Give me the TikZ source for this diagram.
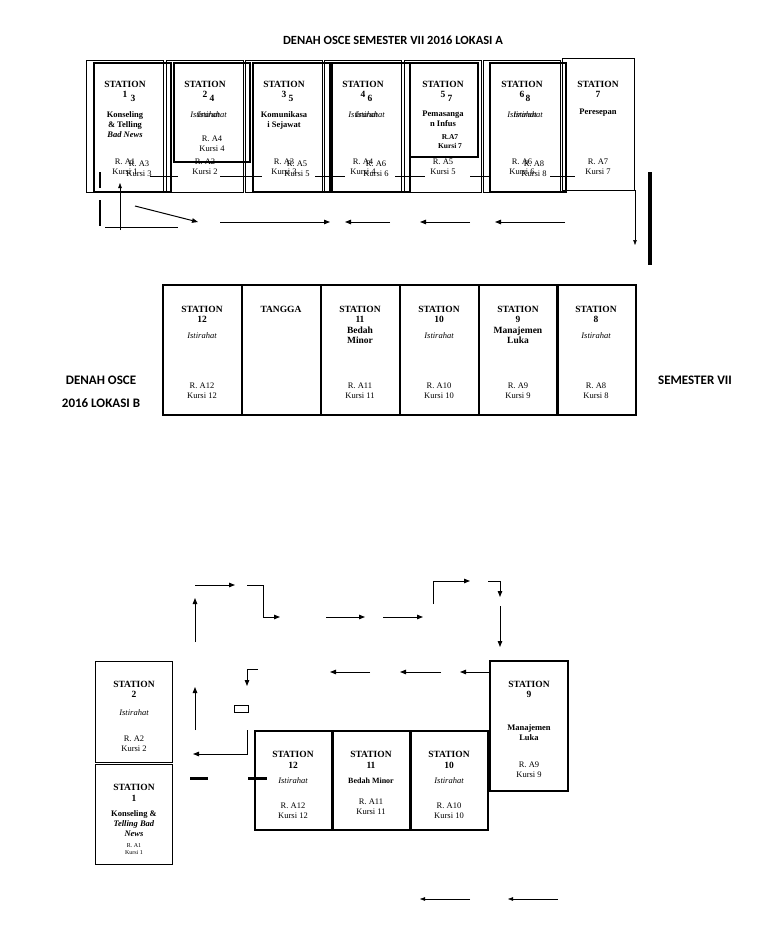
\documentclass[tikz,border=0pt]{standalone}
\usepackage{fontspec}
\setmainfont{Liberation Serif}
\newfontfamily\hd{Carlito}
\usetikzlibrary{arrows.meta}
\begin{document}
\begin{tikzpicture}[x=1pt,y=-1pt,
  tb/.style={draw,line width=0.6pt},
  thk/.style={draw,line width=2pt},
  st/.style={font=\bfseries\fontsize{9.5}{10.5}\selectfont,align=center,anchor=north,inner sep=1pt},
  it/.style={font=\itshape\fontsize{8.5}{9.5}\selectfont,align=center,anchor=north,inner sep=1pt},
  rm/.style={font=\fontsize{8.5}{10}\selectfont,align=center,anchor=north,inner sep=1pt},
  ar/.style={-{Triangle[length=6pt,width=4.5pt]},line width=1pt},
  thin/.style={-{Triangle[length=5pt,width=3.5pt]},line width=0.5pt},
  bar/.style={line width=3pt}]
\useasboundingbox (0,0) rectangle (768,932);
\node[font=\hd\bfseries\fontsize{12.5}{14}\selectfont] (title) at (393,40) {DENAH OSCE SEMESTER VII 2016 LOKASI A};
% ---- top layer A
\foreach \i/\x in {1/86,2/166,3/245,4/324,5/404,6/483}{
  \draw[tb] (\x,60) rectangle (\x+77,192);}
\draw[tb] (562,58) rectangle (634,190);
\node[st] (a1) at (125,80) {STATION\\1}; \node[st,font=\bfseries\fontsize{8.5}{10}\selectfont] at (125,110) {Konseling\\\& Telling\\\textit{Bad News}};
\node[st] (a2) at (205,80) {STATION\\2}; \node[it] at (205,110) {Istirahat};
\node[st] (a3) at (284,80) {STATION\\3}; \node[st,font=\bfseries\fontsize{8.5}{10}\selectfont] at (284,110) {Komunikasa\\i Sejawat};
\node[st] (a4) at (363,80) {STATION\\4}; \node[it] at (363,110) {Istirahat};
\node[st] (a5) at (443,80) {STATION\\5}; \node[st,font=\bfseries\fontsize{8.5}{10}\selectfont] at (443,110) {Pemasanga\\n Infus};
\node[st] (a6) at (522,80) {STATION\\6}; \node[it] at (522,110) {Istirahat};
\node[st] (a7) at (598,80) {STATION\\7}; \node[st,font=\bfseries\fontsize{8.5}{10}\selectfont] at (598,108) {Peresepan};
\foreach \x/\n in {125/1,205/2,284/3,363/4,443/5,522/6,598/7}{
  \node[rm] at (\x,158) {R. A\n\\Kursi \n};}
% ---- top layer B
\draw[thk] (94,63) rectangle (171,192);
\draw[thk] (174,63) rectangle (250,162);
\draw[thk] (253,63) rectangle (330,192);
\draw[thk] (332,63) rectangle (410,192);
\draw[thk] (410,63) rectangle (478,157);
\draw[thk] (490,63) rectangle (566,192);
\node[st] (b3) at (133,84) {\phantom{STATION}\\3};
\node[st] (b4) at (212,84) {\phantom{STATION}\\4};
\node[st] (b5) at (291,84) {\phantom{STATION}\\5};
\node[st] (b6) at (370,84) {\phantom{STATION}\\6};
\node[st] (b7) at (450,84) {\phantom{STATION}\\7};
\node[st] (b8) at (528,84) {\phantom{STATION}\\8};
\node[it] at (212,110) {Istirahat}; \node[it] at (370,110) {Istirahat}; \node[it] at (528,110) {Istirahat};
\node[rm] at (212,135) {R. A4\\Kursi 4};
\node[rm,font=\bfseries\fontsize{7.5}{9}\selectfont] at (450,133) {R.A7\\Kursi 7};
\foreach \x/\n in {133/3,291/5,370/6,528/8}{\node[rm] at (\x+6,160) {R. A\n\\Kursi \n};}
% corridor lines top
\foreach \a/\b in {150/178,220/262,315/345,395/425,470/490,550/575}{\draw[line width=0.7pt] (\a,176)--(\b,176);}
\draw[line width=2pt] (100,172)--(100,188); \draw[line width=2pt] (100,200)--(100,226);
\coordinate (u1) at (120,230); \coordinate (u2) at (120,183);
\draw[thin] (u1)--(u2); \draw[line width=0.7pt] (105,227)--(178,227);
\coordinate (d1) at (135,206); \coordinate (d2) at (198,222); \draw[ar] (d1)--(d2);
\coordinate (r1) at (220,222); \coordinate (r2) at (330,222); \draw[ar] (r1)--(r2);
\coordinate (l1) at (390,222); \coordinate (l2) at (345,222); \draw[ar] (l1)--(l2);
\coordinate (l3) at (470,222); \coordinate (l4) at (420,222); \draw[ar] (l3)--(l4);
\coordinate (l5) at (565,222); \coordinate (l6) at (495,222); \draw[ar] (l5)--(l6);
\coordinate (v1) at (635,190); \coordinate (v2) at (635,245); \draw[thin] (v1)--(v2);
\draw[line width=4pt] (650,172)--(650,265);
% ---- middle row
\foreach \x in {163,242,321,400,479,557}{\draw[line width=1.2pt] (\x,285) rectangle (\x+79,415);}
\node[st] (m12) at (202,305) {STATION\\12}; \node[it] at (202,331) {Istirahat}; \node[rm] at (202,382) {R. A12\\Kursi 12};
\node[st] (mt) at (281,305) {TANGGA};
\node[st] (m11) at (360,305) {STATION\\11\\Bedah\\Minor}; \node[rm] at (360,382) {R. A11\\Kursi 11};
\node[st] (m10) at (439,305) {STATION\\10}; \node[it] at (439,331) {Istirahat}; \node[rm] at (439,382) {R. A10\\Kursi 10};
\node[st] (m9) at (518,305) {STATION\\9\\Manajemen\\Luka}; \node[rm] at (518,382) {R. A9\\Kursi 9};
\node[st] (m8) at (596,305) {STATION\\8}; \node[it] at (596,331) {Istirahat}; \node[rm] at (596,382) {R. A8\\Kursi 8};
\node[font=\hd\bfseries\fontsize{13}{23}\selectfont,align=center] (lb) at (101,392) {DENAH OSCE\\2016 LOKASI B};
\node[font=\hd\bfseries\fontsize{13}{14}\selectfont] (sv) at (695,380) {SEMESTER VII};
% ---- bottom
\draw[line width=1pt] (95,661) rectangle (172,762);
\draw[line width=1pt] (95,764) rectangle (172,864);
\node[st] (s2) at (134,680) {STATION\\2}; \node[it] at (134,708) {Istirahat}; \node[rm] at (134,735) {R. A2\\Kursi 2};
\node[st] (s1) at (134,783) {STATION\\1}; \node[st,font=\bfseries\fontsize{8.5}{10}\selectfont] at (134,809) {Konseling \&\\\textit{Telling Bad}\\\textit{News}};
\node[rm,font=\fontsize{6}{7}\selectfont] at (134,842) {R. A1\\Kursi 1};
\foreach \x in {255,333,411}{\draw[line width=1.2pt] (\x,731) rectangle (\x+77,830);}
\draw[line width=1.2pt] (490,661) rectangle (568,791);
\node[st] (s12) at (293,750) {STATION\\12}; \node[it] at (293,776) {Istirahat}; \node[rm] at (293,802) {R. A12\\Kursi 12};
\node[st] (s11) at (371,750) {STATION\\11}; \node[st,font=\bfseries\fontsize{8}{9}\selectfont] at (371,777) {Bedah Minor}; \node[rm] at (371,798) {R. A11\\Kursi 11};
\node[st] (s10) at (449,750) {STATION\\10}; \node[it] at (449,776) {Istirahat}; \node[rm] at (449,802) {R. A10\\Kursi 10};
\node[st] (s9) at (529,680) {STATION\\9}; \node[st,font=\bfseries\fontsize{8.5}{10}\selectfont] at (529,723) {Manajemen\\Luka}; \node[rm] at (529,761) {R. A9\\Kursi 9};
\coordinate (p1) at (195,642); \coordinate (p2) at (195,598); \draw[ar] (p1)--(p2);
\coordinate (p3) at (195,585); \coordinate (p4) at (235,585); \draw[ar] (p3)--(p4);
\coordinate (p5) at (247,585); \coordinate (p6) at (280,617); \draw[ar] (p5)-|(263,617)--(p6);
\coordinate (p7) at (326,617); \coordinate (p8) at (365,617); \draw[ar] (p7)--(p8);
\coordinate (p9) at (383,617); \coordinate (p10) at (423,617); \draw[ar] (p9)--(p10);
\coordinate (p11) at (433,604); \coordinate (p12) at (470,581); \draw[ar] (p11)|-(p12);
\coordinate (p13) at (488,581); \coordinate (p14) at (500,597); \draw[ar] (p13)-|(p14);
\coordinate (p15) at (500,606); \coordinate (p16) at (500,647); \draw[ar] (p15)--(p16);
\coordinate (q1) at (490,672); \coordinate (q2) at (460,672); \draw[ar] (q1)--(q2);
\coordinate (q3) at (441,672); \coordinate (q4) at (400,672); \draw[ar] (q3)--(q4);
\coordinate (q5) at (370,672); \coordinate (q6) at (330,672); \draw[ar] (q5)--(q6);
\coordinate (q7) at (258,669); \coordinate (q8) at (247,686); \draw[ar] (q7)-|(q8);
\draw[line width=0.6pt] (234,705) rectangle (248,712);
\coordinate (q9) at (247,730); \coordinate (q10) at (193,754); \draw[ar] (q9)|-(q10);
\coordinate (q11) at (195,730); \coordinate (q12) at (195,687); \draw[ar] (q11)--(q12);
\draw[bar] (190,778)--(208,778); \draw[bar] (248,778)--(267,778);
\coordinate (z1) at (470,899); \coordinate (z2) at (420,899); \draw[thin] (z1)--(z2);
\coordinate (z3) at (558,899); \coordinate (z4) at (508,899); \draw[thin] (z3)--(z4);
\end{tikzpicture}
\end{document}
